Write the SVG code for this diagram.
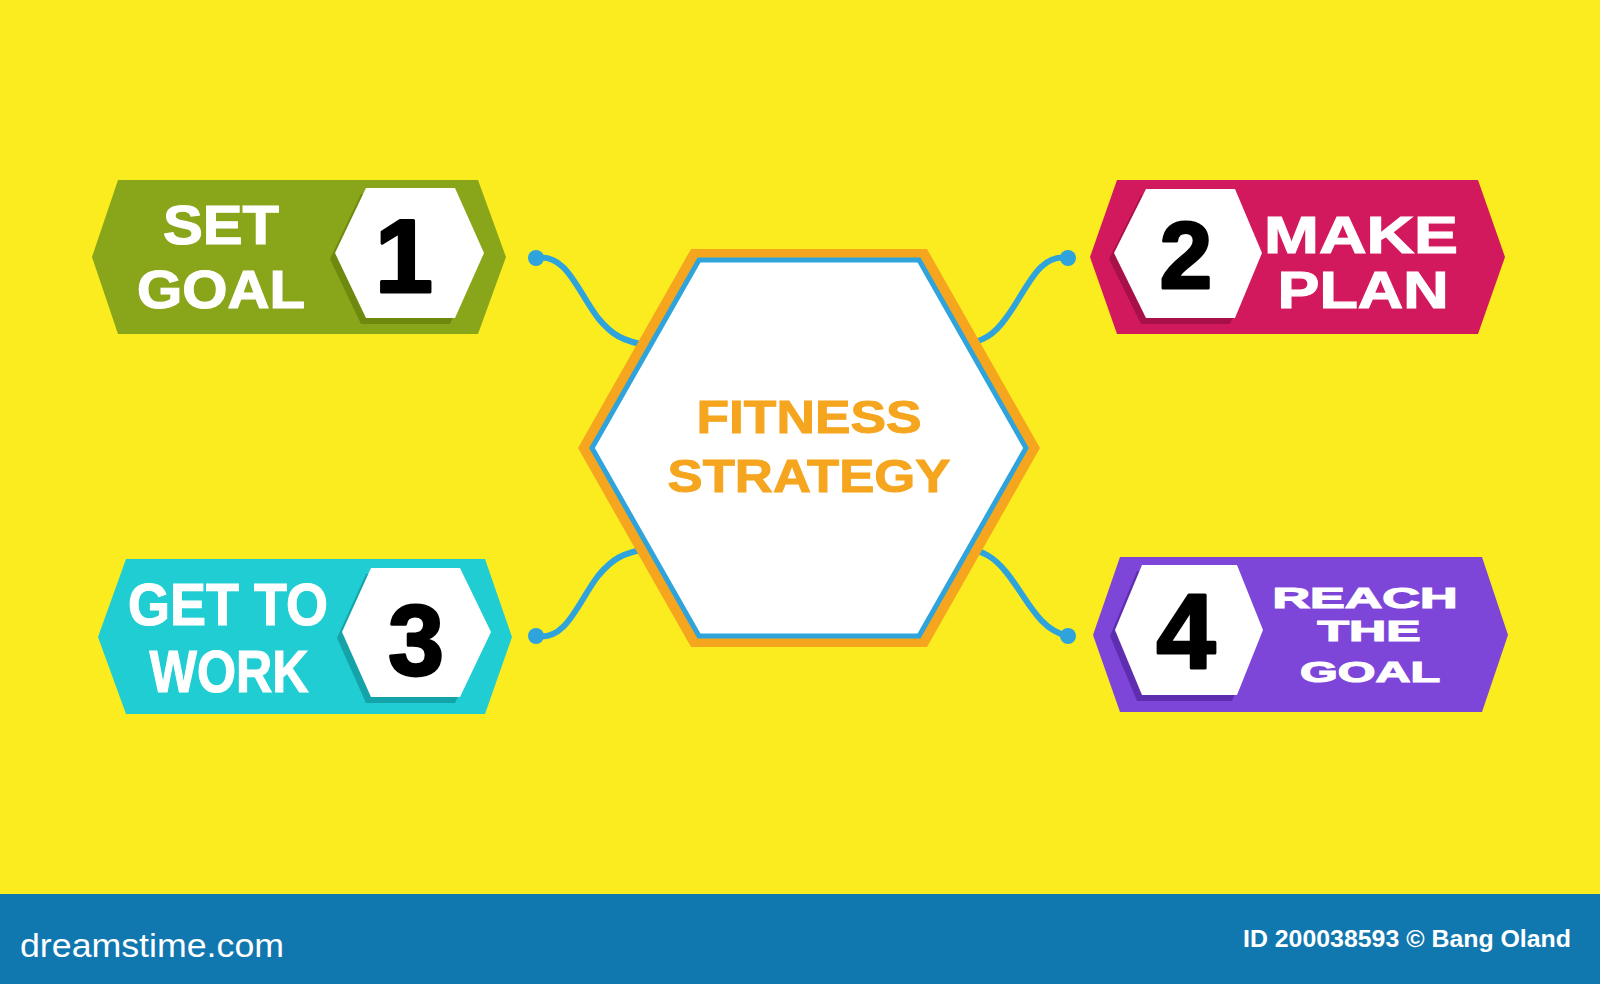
<svg xmlns="http://www.w3.org/2000/svg" width="1600" height="984" viewBox="0 0 1600 984">
<defs>
<style>
.lbl{font-family:"Liberation Sans",Arial,sans-serif;font-weight:bold;fill:#ffffff;stroke:#ffffff;stroke-width:1.2;text-anchor:middle}
.num{font-family:"Liberation Sans",Arial,sans-serif;font-weight:bold;fill:#000000;stroke:#000000;stroke-width:3;stroke-linejoin:round;text-anchor:middle}
.hex{fill:#ffffff}
.conn{fill:none;stroke:#2ea3dc;stroke-width:6;stroke-linecap:round}
.dot{fill:#2ea3dc}
.ctr{font-family:"Liberation Sans",Arial,sans-serif;font-weight:bold;fill:#f5a51e;stroke:#f5a51e;stroke-width:1;text-anchor:middle}
</style>
</defs>
<rect x="0" y="0" width="1600" height="984" fill="#fbec20"/>
<rect x="0" y="894" width="1600" height="90" fill="#1177af"/>
<text x="20" y="957" font-family="'Liberation Sans',Arial,sans-serif" font-size="34" fill="#ffffff" textLength="264" lengthAdjust="spacingAndGlyphs">dreamstime.com</text>
<text x="1571" y="947" font-family="'Liberation Sans',Arial,sans-serif" font-size="23" font-weight="bold" fill="#ffffff" text-anchor="end" textLength="328" lengthAdjust="spacingAndGlyphs">ID 200038593 © Bang Oland</text>

<g id="connectors">
<path class="conn" d="M536,258 C566,252 578,292 598,318 C612,335 622,341 650,346"/>
<circle class="dot" cx="536" cy="258" r="8"/>
<path class="conn" d="M1068,258 C1038,252 1026,292 1006,318 C994,335 984,341 960,346"/>
<circle class="dot" cx="1068" cy="258" r="8"/>
<path class="conn" d="M536,636 C566,642 578,602 598,576 C612,559 622,553 650,548"/>
<circle class="dot" cx="536" cy="636" r="8"/>
<path class="conn" d="M1068,636 C1038,630 1026,596 1006,572 C994,557 984,551 960,546"/>
<circle class="dot" cx="1068" cy="636" r="8"/>
</g>

<g id="center">
<polygon points="578,448 691,249 927,249 1040,448 927,647 691,647" fill="#f5a51e"/>
<polygon points="592,448 699,260 919,260 1026,448 919,636 699,636" fill="#ffffff" stroke="#2ea3dc" stroke-width="5"/>
<text class="ctr" x="809" y="433" font-size="46" textLength="225" lengthAdjust="spacingAndGlyphs">FITNESS</text>
<text class="ctr" x="809" y="492" font-size="47" textLength="283" lengthAdjust="spacingAndGlyphs">STRATEGY</text>
</g>

<g id="step1">
<polygon points="92,257 118,180 478,180 506,257 478,334 118,334" fill="#89a51a"/>
<polygon points="335,253 366,188 455,188 484,253 455,318 366,318" fill="#6e8a0e" transform="translate(-5,6)"/>
<polygon class="hex" points="335,253 366,188 455,188 484,253 455,318 366,318"/>
<text class="lbl" x="221" y="244" font-size="56" textLength="116" lengthAdjust="spacingAndGlyphs">SET</text>
<text class="lbl" x="221" y="308" font-size="53" textLength="168" lengthAdjust="spacingAndGlyphs">GOAL</text>
<text class="num" x="404" y="292" font-size="104">1</text>
</g>

<g id="step2">
<polygon points="1090,257 1117,180 1478,180 1505,257 1478,334 1117,334" fill="#d3195d"/>
<polygon points="1114,253 1146,189 1235,189 1262,253 1235,318 1146,318" fill="#a8104a" transform="translate(-5,6)"/>
<polygon class="hex" points="1114,253 1146,189 1235,189 1262,253 1235,318 1146,318"/>
<text class="num" x="1186" y="288" font-size="94">2</text>
<text class="lbl" x="1361" y="253" font-size="52" textLength="194" lengthAdjust="spacingAndGlyphs">MAKE</text>
<text class="lbl" x="1363" y="308" font-size="52" textLength="171" lengthAdjust="spacingAndGlyphs">PLAN</text>
</g>

<g id="step3">
<polygon points="98,637 126,559 485,559 512,637 485,714 126,714" fill="#1fcdd2"/>
<polygon points="342,632 371,568 460,568 491,632 460,697 371,697" fill="#14a3a8" transform="translate(-5,6)"/>
<polygon class="hex" points="342,632 371,568 460,568 491,632 460,697 371,697"/>
<text class="lbl" x="228" y="625" font-size="60" textLength="200" lengthAdjust="spacingAndGlyphs">GET TO</text>
<text class="lbl" x="229" y="692" font-size="60" textLength="159" lengthAdjust="spacingAndGlyphs">WORK</text>
<text class="num" x="416" y="675" font-size="100">3</text>
</g>

<g id="step4">
<polygon points="1093,635 1120,557 1482,557 1508,635 1482,712 1120,712" fill="#7e45d9"/>
<polygon points="1115,630 1142,565 1237,565 1263,630 1237,695 1142,695" fill="#5f2eb0" transform="translate(-5,6)"/>
<polygon class="hex" points="1115,630 1142,565 1237,565 1263,630 1237,695 1142,695"/>
<text class="num" x="1186" y="668" font-size="106">4</text>
<text class="lbl" x="1365" y="608" font-size="29" textLength="185" lengthAdjust="spacingAndGlyphs">REACH</text>
<text class="lbl" x="1369" y="641" font-size="29" textLength="103" lengthAdjust="spacingAndGlyphs">THE</text>
<text class="lbl" x="1370" y="682" font-size="29" textLength="140" lengthAdjust="spacingAndGlyphs">GOAL</text>
</g>
</svg>
